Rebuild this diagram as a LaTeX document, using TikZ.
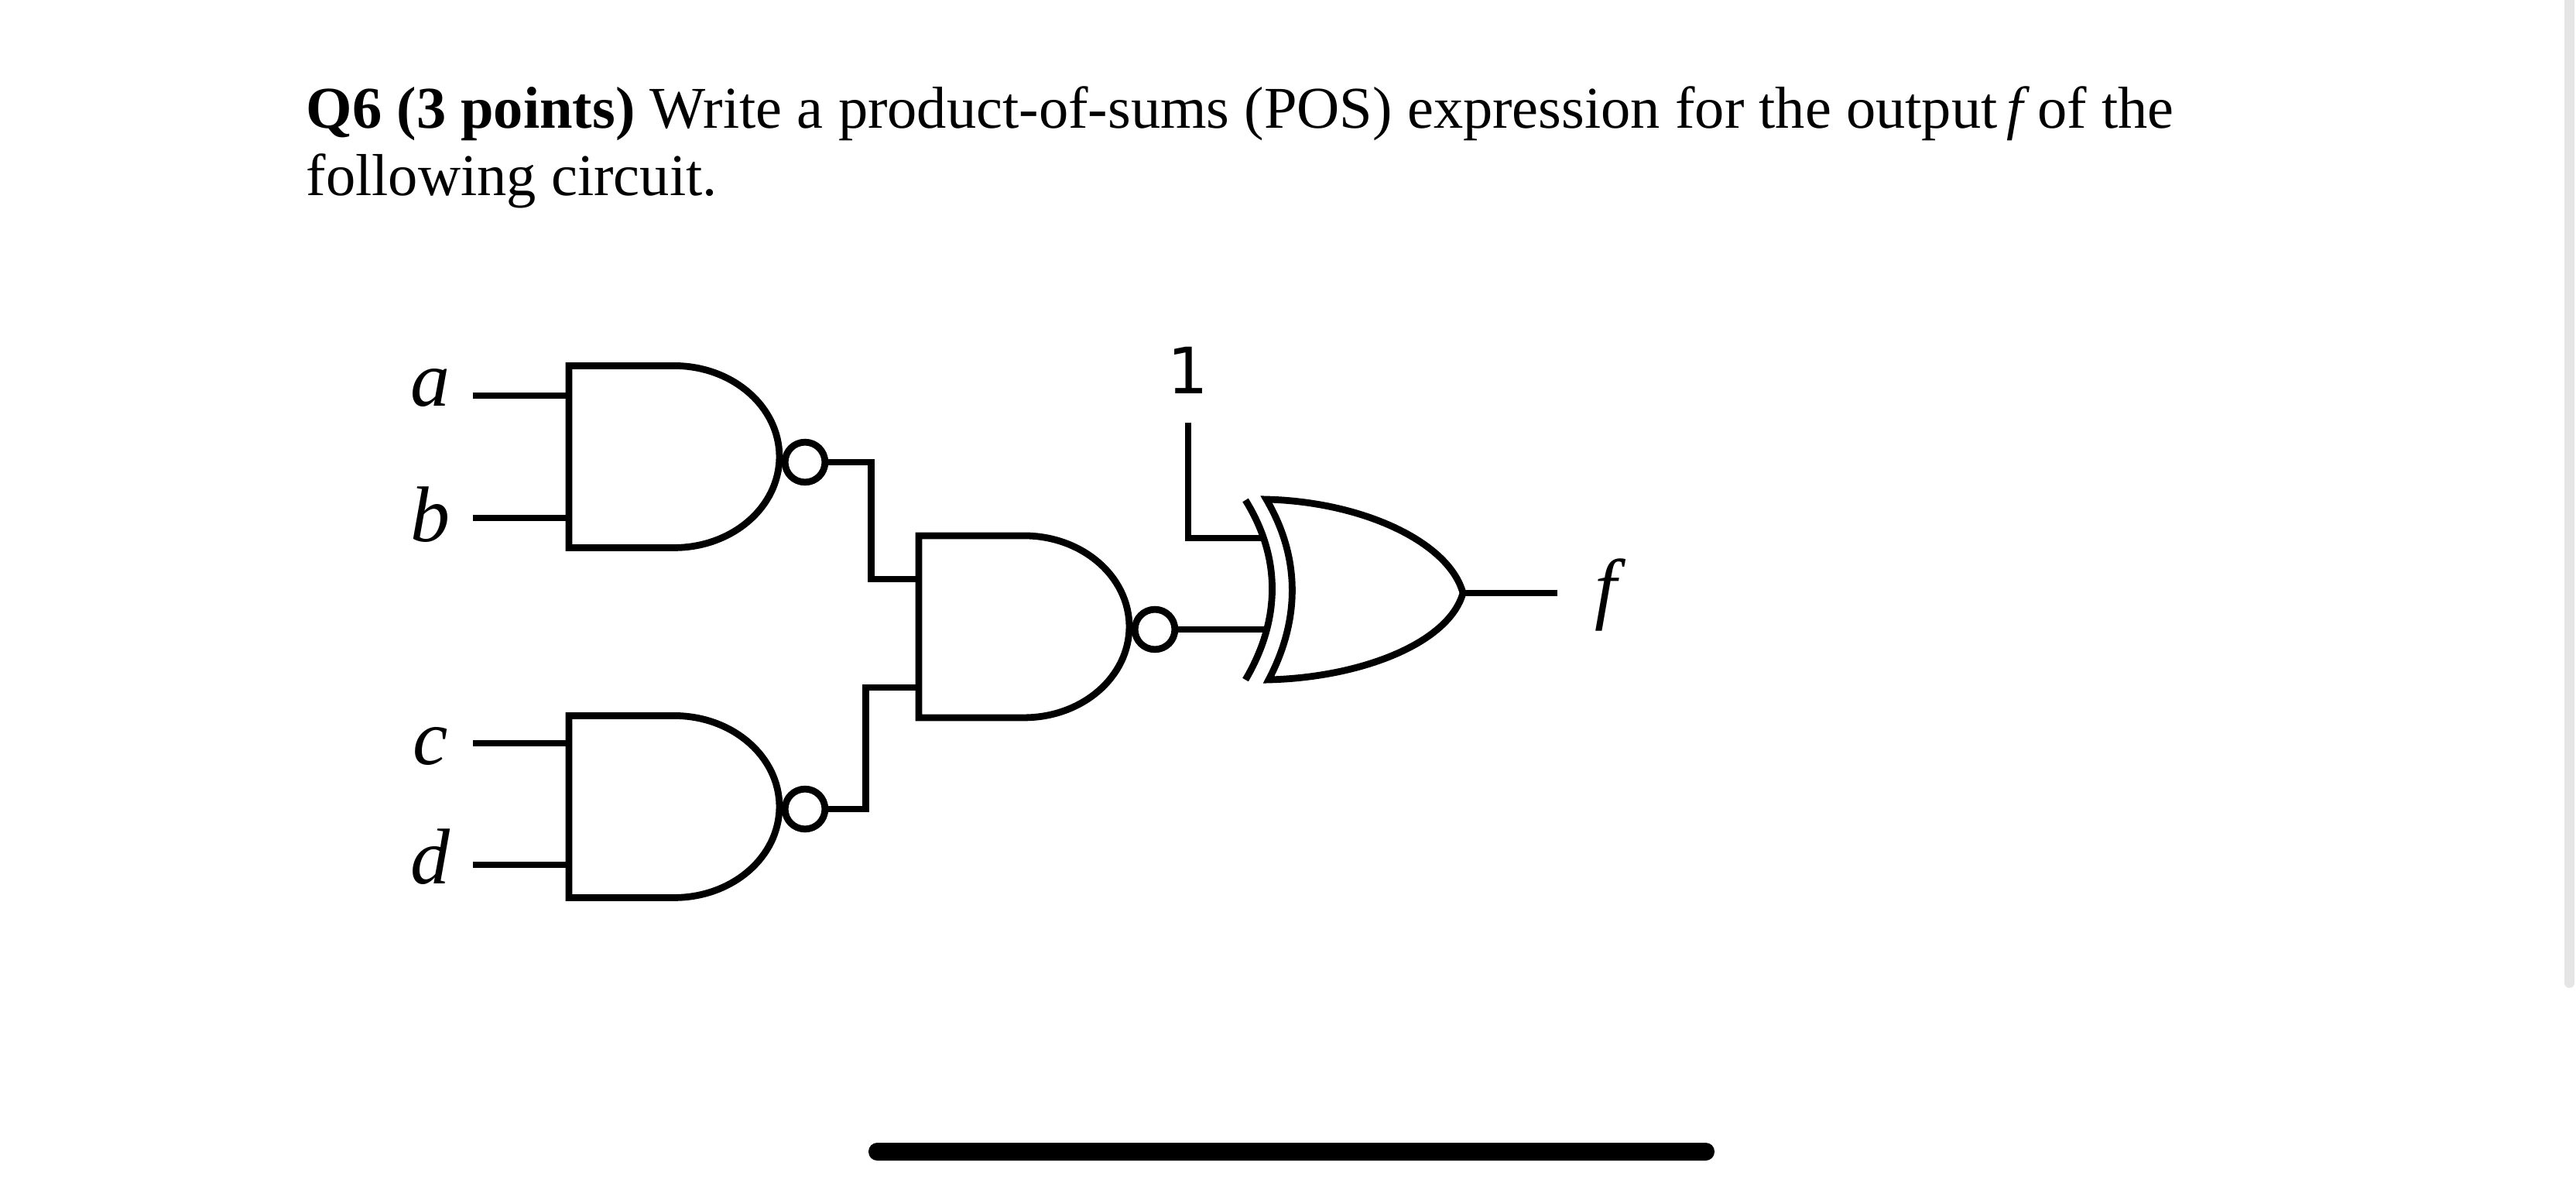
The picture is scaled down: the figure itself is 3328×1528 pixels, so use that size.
\documentclass[tikz,border=0pt]{standalone}
\usepackage{fontspec}
\setmainfont{Liberation Serif}
\newfontfamily\digitfont{DejaVu Sans}
\tikzset{
	wire/.style={line width=2.5pt,line join=miter},
	gatebody/.style={rectangle,inner sep=0pt,outer sep=0pt,minimum width=2.72cm,minimum height=2.35cm},
	bubble/.style={circle,draw,fill=white,line width=2.5pt,inner sep=0pt,minimum size=1.52cm*0.34},
	inlabel/.style={anchor=base,inner sep=0pt,font=\fontsize{29}{29}\selectfont\itshape},
	qtext/.style={anchor=base west,inner sep=0pt,font=\fontsize{21.75}{26}\selectfont}
}
\begin{document}
\begin{tikzpicture}[x=0.01cm,y=-0.01cm]
	\useasboundingbox (0,0) rectangle (3328,1528);

	\node[qtext] (line1) at (395,166) {\textbf{Q6 (3 points)} Write a product-of-sums (POS) expression for the output\hspace{0.16em}\textit{f}\hspace{0.12em}of the};
	\node[qtext] (line2) at (395,253) {following circuit.};

	% gates
	\node[gatebody] (ga) at (871,590) {};
	\node[gatebody] (gb) at (1323,809.5) {};
	\node[gatebody] (gc) at (871,1042) {};
	\foreach \g in {ga,gb,gc}
		\draw[wire] (\g.south west) -- (\g.north west) -- ++(136,0)
			arc[start angle=-90,end angle=90,x radius=136,y radius=117.5] -- cycle;
	\node[bubble] (ba) at (1040,597) {};
	\node[bubble] (bb) at (1492,813) {};
	\node[bubble] (bc) at (1040,1045) {};

	\draw[wire] (1636,645) .. controls (1760,648) and (1872,700) .. (1890,766)
		.. controls (1872,830) and (1760,875) .. (1639,878)
		.. controls (1680,800) and (1680,720) .. cycle;
	\draw[wire] (1609,646) .. controls (1655,720) and (1655,800) .. (1609,878);

	% inputs
	\node[inlabel] (la) at (556,525) {a};
	\node[inlabel] (lb) at (556,699) {b};
	\node[inlabel] (lc) at (556,987) {c};
	\node[inlabel] (ld) at (556,1141) {d};
	\coordinate (pa) at (611,511);
	\coordinate (pb) at (611,669);
	\coordinate (pc) at (611,960);
	\coordinate (pd) at (611,1117);
	\foreach \p/\g in {pa/ga,pb/ga,pc/gc,pd/gc}
		\draw[wire] (\p) -- (\p -| \g.west);

	% middle wires
	\coordinate (gb1) at (1187,748);
	\coordinate (gb2) at (1187,888);
	\draw[wire] (ba.east) -- ++(55,0) |- (gb1);
	\draw[wire] (bc.east) -- ++(48,0) |- (gb2);

	% xor inputs and output
	\node[anchor=base,inner sep=0pt,font=\fontsize{23.5}{23.5}\selectfont\digitfont] (lone) at (1535,509) {1};
	\coordinate (pone) at (1535,546);
	\coordinate (gx1) at (1636,695);
	\coordinate (gx2) at (1639,813);
	\draw[wire] (pone) |- (gx1);
	\draw[wire] (bb.east) -- (gx2);
	\coordinate (gxo) at (1890,766);
	\coordinate (pf) at (2012,766);
	\draw[wire] (gxo) -- (pf);
	\node[inlabel] (lf) at (2075,793) {f};

	% screenshot leftovers
	\fill[rounded corners=3.2pt] (1122,1476) rectangle (2215,1499);
	\fill[black!10,rounded corners=1.8pt] (3313,-30) rectangle (3326,1276);
\end{tikzpicture}
\end{document}
